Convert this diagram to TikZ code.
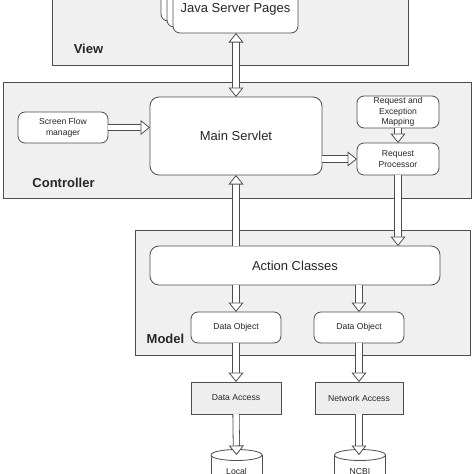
\documentclass[tikz,border=0pt]{standalone}
\usepackage{fontspec}
\setmainfont{Liberation Sans}
\usetikzlibrary{arrows.meta}
\definecolor{edge}{HTML}{4D4D4D}
\definecolor{panel}{HTML}{F0F0F0}
\definecolor{boxgray}{HTML}{EEEEEE}
\definecolor{txt}{HTML}{262626}
\begin{document}
\begin{tikzpicture}[x=1pt,y=-1pt,
  panelbox/.style={draw=edge, fill=panel, line width=0.9pt},
  rbox/.style={draw=edge, fill=white, rounded corners=7pt, line width=0.8pt,
    inner sep=0pt, outer sep=0pt, text=txt, align=center},
  sqbox/.style={draw=edge, fill=boxgray, line width=0.8pt,
    inner sep=0pt, outer sep=0pt, text=txt, align=center},
  bigtxt/.style={font=\fontsize{13}{15}\selectfont},
  smalltxt/.style={font=\fontsize{8.6}{10.6}\selectfont},
  paneltitle/.style={font=\fontsize{13}{15}\selectfont\bfseries, text=txt, inner sep=0pt},
  harrow/.style={draw=white, line width=0.5pt, -{Triangle[open, fill=white, color=edge, width=15pt, length=9.5pt, line width=0.8pt]},
    shorten <=1pt,
    preaction={draw=edge, double=white, double distance=5.5pt, line width=0.8pt, -, shorten >=8.5pt, shorten <=0pt}},
  hdarrow/.style={draw=white, line width=0.5pt,
    {Triangle[open, fill=white, color=edge, width=15pt, length=9.5pt, line width=0.8pt]}-{Triangle[open, fill=white, color=edge, width=15pt, length=9.5pt, line width=0.8pt]},
    preaction={draw=edge, double=white, double distance=5.5pt, line width=0.8pt, -, shorten >=8.5pt, shorten <=8.5pt}}
]
\useasboundingbox (0,0) rectangle (474,474);
\clip (0,0) rectangle (474,474);

% panels
\draw[panelbox] (52,-5) rectangle (408,65);
\draw[panelbox] (3,82) rectangle (471,198);
\draw[panelbox] (135,230) rectangle (470,355);

\node[paneltitle] (viewlbl) at (88.5,49) {View};
\node[paneltitle] (ctrllbl) at (63.5,183) {Controller};
\node[paneltitle] (modellbl) at (165.5,339) {Model};

% JSP stack
\draw[draw=edge, fill=white, rounded corners=7pt, line width=0.8pt] (161,-30) rectangle (286,21);
\draw[draw=edge, fill=white, rounded corners=7pt, line width=0.8pt] (167,-30) rectangle (292,27);
\node[rbox, bigtxt, minimum width=125pt, minimum height=48pt] (jsp) at (235.5,9) {Java Server Pages};

% controller
\node[rbox, smalltxt, minimum width=90pt, minimum height=31pt] (sfm) at (63,127.5) {Screen Flow\\manager};
\node[rbox, bigtxt, rounded corners=9pt, minimum width=172pt, minimum height=78pt] (ms) at (236,136) {Main Servlet};
\node[rbox, smalltxt, minimum width=82pt, minimum height=32pt] (rem) at (398,112) {Request and\\Exception\\Mapping};
\node[rbox, smalltxt, minimum width=82pt, minimum height=32pt] (rp) at (398,159) {Request\\Processor};

% model
\node[rbox, bigtxt, rounded corners=9pt, minimum width=290pt, minimum height=39pt] (ac) at (295,265.5) {Action Classes};
\node[rbox, smalltxt, minimum width=90pt, minimum height=31pt] (do1) at (236,327.5) {Data Object};
\node[rbox, smalltxt, minimum width=90pt, minimum height=31pt] (do2) at (359,327.5) {Data Object};

% access
\node[sqbox, smalltxt, minimum width=90pt, minimum height=32pt] (da) at (236,398) {Data Access};
\node[sqbox, smalltxt, minimum width=88pt, minimum height=32pt] (na) at (359,398) {Network Access};

% cylinders
\fill[white] (211,455) rectangle (262,490);
\draw[edge, line width=0.8pt] (211,455) -- (211,490) (262,455) -- (262,490);
\draw[edge, fill=white, line width=0.8pt] (236.5,455) ellipse [x radius=25.5, y radius=5.5];
\coordinate (localtop) at (236.5,455);
\node[smalltxt, text=txt, inner sep=0pt] (localtxt) at (236.5,471.5) {Local};

\fill[white] (334.5,455) rectangle (385.5,490);
\draw[edge, line width=0.8pt] (334.5,455) -- (334.5,490) (385.5,455) -- (385.5,490);
\draw[edge, fill=white, line width=0.8pt] (360,455) ellipse [x radius=25.5, y radius=5.5];
\coordinate (ncbitop) at (360,455);
\node[smalltxt, text=txt, inner sep=0pt] (ncbitxt) at (360,471.5) {NCBI};

% arrows
\draw[hdarrow] (jsp.south -| ms.north) -- (ms.north);
\draw[harrow] (sfm.east) -- (sfm.east -| ms.west);
\draw[harrow] (ms.east |- rp.west) -- (rp.west);
\draw[harrow] (rem.south) -- (rp.north);
\draw[harrow] (ac.north -| ms.south) -- (ms.south);
\draw[harrow] (rp.south) -- (rp.south |- ac.north);
\draw[harrow] (do1.north |- ac.south) -- (do1.north);
\draw[harrow] (do2.north |- ac.south) -- (do2.north);
\draw[harrow] (do1.south) -- (da.north);
\draw[harrow] (do2.south) -- (na.north);
\draw[harrow] (da.south) -- (localtop);
\draw[harrow] (na.south) -- (na.south |- ncbitop);
\end{tikzpicture}
\end{document}
